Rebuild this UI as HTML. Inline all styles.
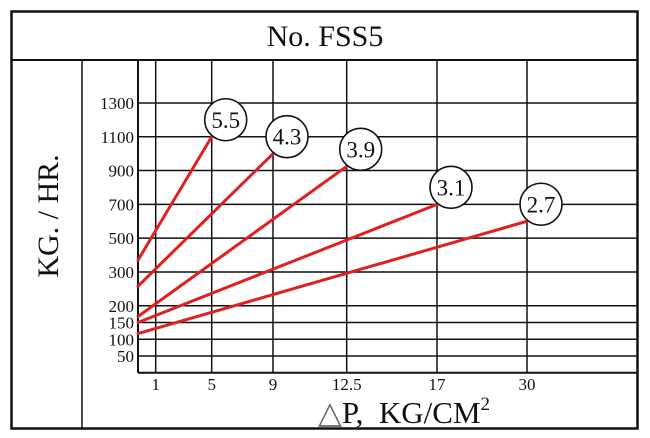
<!DOCTYPE html>
<html><head><meta charset="utf-8"><style>
html,body{margin:0;padding:0;background:#fff;}
svg{display:block;font-family:"Liberation Serif",serif;}
</style></head><body>
<svg id="chart" width="650" height="438" viewBox="0 0 650 438">
<rect x="11.5" y="11.5" width="626" height="417" fill="none" stroke="#111" stroke-width="2.5"/>
<line x1="11" y1="60" x2="638" y2="60" stroke="#111" stroke-width="2"/>
<line x1="82" y1="60" x2="82" y2="429" stroke="#111" stroke-width="1.5"/>
<text x="325" y="46" text-anchor="middle" font-size="30" fill="#111">No. FSS5</text>
<text transform="translate(58,216) rotate(-90)" text-anchor="middle" font-size="30" fill="#111">KG. / HR.</text>
<text x="404" y="423" text-anchor="middle" font-size="31" fill="#111" xml:space="preserve" style="white-space:pre"><tspan fill="#666">△</tspan>P,  KG/CM<tspan font-size="19" dy="-13">2</tspan></text>
<g id="grid"></g><g id="series"></g><g id="labels"></g>
</svg>
<script>
const xTicks = [1, 5, 9, 12.5, 17, 30];
const yTicks = [50, 100, 150, 200, 300, 500, 700, 900, 1100, 1300];
const seriesNames = ["5.5", "4.3", "3.9", "3.1", "2.7"];
const startY = [370, 258, 168, 150, 117];
const endX = [5, 9, 12.5, 17, 30];
const endY = [1100, 1000, 925, 700, 600];

const NS = "http://www.w3.org/2000/svg";
const plotL = 138, plotR = 637, plotT = 60, plotB = 372.7;
// axis layout (pixel positions of ticks along the printed, non-uniform axes)
const xPos = [155.7, 211.7, 273, 346.7, 437, 527];
function xScale(v){
  const vs=[0].concat(xTicks), ps=[plotL].concat(xPos);
  for(let i=0;i<vs.length-1;i++){ if(v<=vs[i+1]){ return ps[i]+(v-vs[i])/(vs[i+1]-vs[i])*(ps[i+1]-ps[i]); } }
  const n=vs.length-1; return ps[n]+(v-vs[n])/(vs[n]-vs[n-1])*(ps[n]-ps[n-1]);
}
function yTickPos(i){
  let p=plotB-16.7; for(let k=1;k<=i;k++){ p -= (yTicks[k]<=200?16.75:33.8); } return p;
}
function yScale(v){
  const vs=[0].concat(yTicks), ps=[plotB].concat(yTicks.map((_,i)=>yTickPos(i)));
  for(let i=0;i<vs.length-1;i++){ if(v<=vs[i+1]){ return ps[i]+(v-vs[i])/(vs[i+1]-vs[i])*(ps[i+1]-ps[i]); } }
  const n=vs.length-1; return ps[n]+(v-vs[n])/(vs[n]-vs[n-1])*(ps[n]-ps[n-1]);
}
function mk(tag, attrs, parent){ const e=document.createElementNS(NS,tag); for(const k in attrs) e.setAttribute(k,attrs[k]); parent.appendChild(e); return e; }
const grid=document.getElementById('grid'), ser=document.getElementById('series'), lab=document.getElementById('labels');

yTicks.forEach((t,i)=>{
  const y=yScale(t);
  const l=mk('line',{x1:plotL,x2:plotR,y1:y,y2:y,stroke:'#111','stroke-width':1.5},grid);
  
  
  const tx=mk('text',{x:plotL-4,y:y+6,'text-anchor':'end','font-size':17,fill:'#111'},grid);
  tx.textContent=t;
  
  
});
xTicks.forEach((t,i)=>{
  const x=xScale(t);
  const l=mk('line',{x1:x,x2:x,y1:plotT,y2:plotB,stroke:'#111','stroke-width':1.5},grid);
  
  
  const tx=mk('text',{x:x,y:390,'text-anchor':'middle','font-size':17,fill:'#111'},grid);
  tx.textContent=t;
  
  
});
const ax=mk('line',{x1:plotL,x2:plotL,y1:plotT,y2:plotB,stroke:'#111','stroke-width':2},grid);


const bx=mk('line',{x1:plotL,x2:plotR,y1:plotB,y2:plotB,stroke:'#111','stroke-width':2},grid);



seriesNames.forEach((nm,i)=>{
  const x1=xScale(0), y1=yScale(startY[i]), x2=xScale(endX[i]), y2=yScale(endY[i]);
  const l=mk('line',{x1:x1,y1:y1,x2:x2,y2:y2,stroke:'#e02020','stroke-width':3,'stroke-linecap':'round'},ser);
  
  
  const cx=x2+14, cy=y2-17;
  const c=mk('circle',{cx:cx,cy:cy,r:21,fill:'#fff',stroke:'#111','stroke-width':1.6},lab);
  
  
  const t=mk('text',{x:cx,y:cy+8,'text-anchor':'middle','font-size':23,fill:'#111'},lab);
  t.textContent=nm;
  
  
});
</script>
</body></html>
